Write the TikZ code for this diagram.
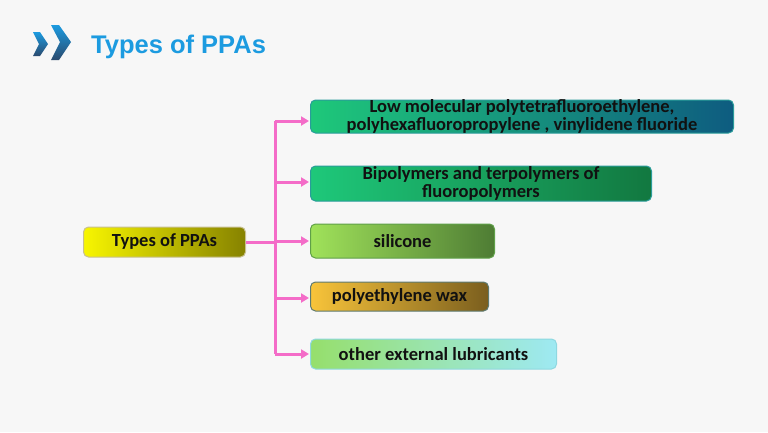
\documentclass[tikz,border=0pt]{standalone}
\usepackage{fontspec}
\setmainfont{Carlito}
\newfontfamily\titlefont{Liberation Sans}
\usetikzlibrary{arrows.meta}
\definecolor{bg}{HTML}{F7F7F7}
\definecolor{titleblue}{HTML}{1C9BE0}
\definecolor{icondark}{HTML}{2B4A6E}
\definecolor{pinkline}{HTML}{F46CC8}
\definecolor{txt}{HTML}{111111}
\definecolor{gA}{HTML}{1EC87A}
\definecolor{c1R}{HTML}{0E5C80}
\definecolor{c2R}{HTML}{127840}
\definecolor{bdTeal}{HTML}{2A9C9A}
\definecolor{c3L}{HTML}{A0E25A}
\definecolor{c3R}{HTML}{4E7C34}
\definecolor{c3B}{HTML}{5FA048}
\definecolor{c4L}{HTML}{F8C43A}
\definecolor{c4R}{HTML}{7A5E1E}
\definecolor{c4B}{HTML}{5E7A70}
\definecolor{c5L}{HTML}{96DF6C}
\definecolor{c5R}{HTML}{9EE9F3}
\definecolor{c5B}{HTML}{8ED8E0}
\definecolor{rL}{HTML}{F8F600}
\definecolor{rR}{HTML}{868200}
\definecolor{rB}{HTML}{C8C090}
\tikzset{
  box/.style={draw, line width=1pt, rounded corners=5pt, anchor=west, inner sep=0pt},
  boxtext/.style={font=\fontsize{18.5}{18.5}\selectfont\bfseries, text=txt, align=center, inner sep=0pt},
  conn/.style={draw=pinkline, line width=3pt},
  arr/.style={conn, -{Triangle[length=8pt,width=9pt]}, shorten >=1pt}
}
\begin{document}
\begin{tikzpicture}[x=1pt,y=-1pt]
\fill[bg] (0,0) rectangle (768,432);
\useasboundingbox (0,0) rectangle (768,432);
% icon
\shade[top color=titleblue, bottom color=icondark] (33,32) -- (40,32) -- (48,44) -- (40,56) -- (33,56) -- (39,44) -- cycle;
\shade[top color=titleblue, bottom color=icondark] (51,25) -- (59,25) -- (71,42) -- (59,60) -- (51,60) -- (60,42) -- cycle;
\node[font=\titlefont\fontsize{25.5}{28}\selectfont\bfseries, text=titleblue, anchor=west, inner sep=0pt] (title) at (91,47) {Types of PPAs};
% root
\node[box, draw=rB, left color=rL, right color=rR, minimum width=162pt, minimum height=30pt,
  label={[boxtext]center:Types of PPAs}] (root) at (83,242) {};
% children
\node[box, draw=bdTeal, left color=gA, right color=c1R, minimum width=423pt, minimum height=33pt,
  label={[boxtext]center:Low molecular polytetrafluoroethylene,\\polyhexafluoropropylene , vinylidene fluoride}] (c1) at (310,116.5) {};
\node[box, draw=bdTeal, left color=gA, right color=c2R, minimum width=341pt, minimum height=35pt,
  label={[boxtext]center:Bipolymers and terpolymers of\\fluoropolymers}] (c2) at (310,183.5) {};
\node[box, draw=c3B, left color=c3L, right color=c3R, minimum width=184pt, minimum height=34pt,
  label={[boxtext]center:silicone}] (c3) at (310,241) {};
\node[box, draw=c4B, left color=c4L, right color=c4R, minimum width=178pt, minimum height=29pt,
  label={[boxtext]center:polyethylene wax}] (c4) at (310,296.5) {};
\node[box, draw=c5B, left color=c5L, right color=c5R, minimum width=246pt, minimum height=30pt,
  label={[boxtext]center:other external lubricants}] (c5) at (310,354) {};
% connectors
\coordinate (j) at (275,242);
\draw[conn] (root.east) -- (j);
\draw[conn] (275,121) -- (275,354);
\draw[arr] (275,121) -- (c1.west |- 0,121);
\draw[arr] (275,182) -- (c2.west |- 0,182);
\draw[arr] (275,241) -- (c3.west);
\draw[arr] (275,298) -- (c4.west |- 0,298);
\draw[arr] (275,354) -- (c5.west);
\end{tikzpicture}
\end{document}
